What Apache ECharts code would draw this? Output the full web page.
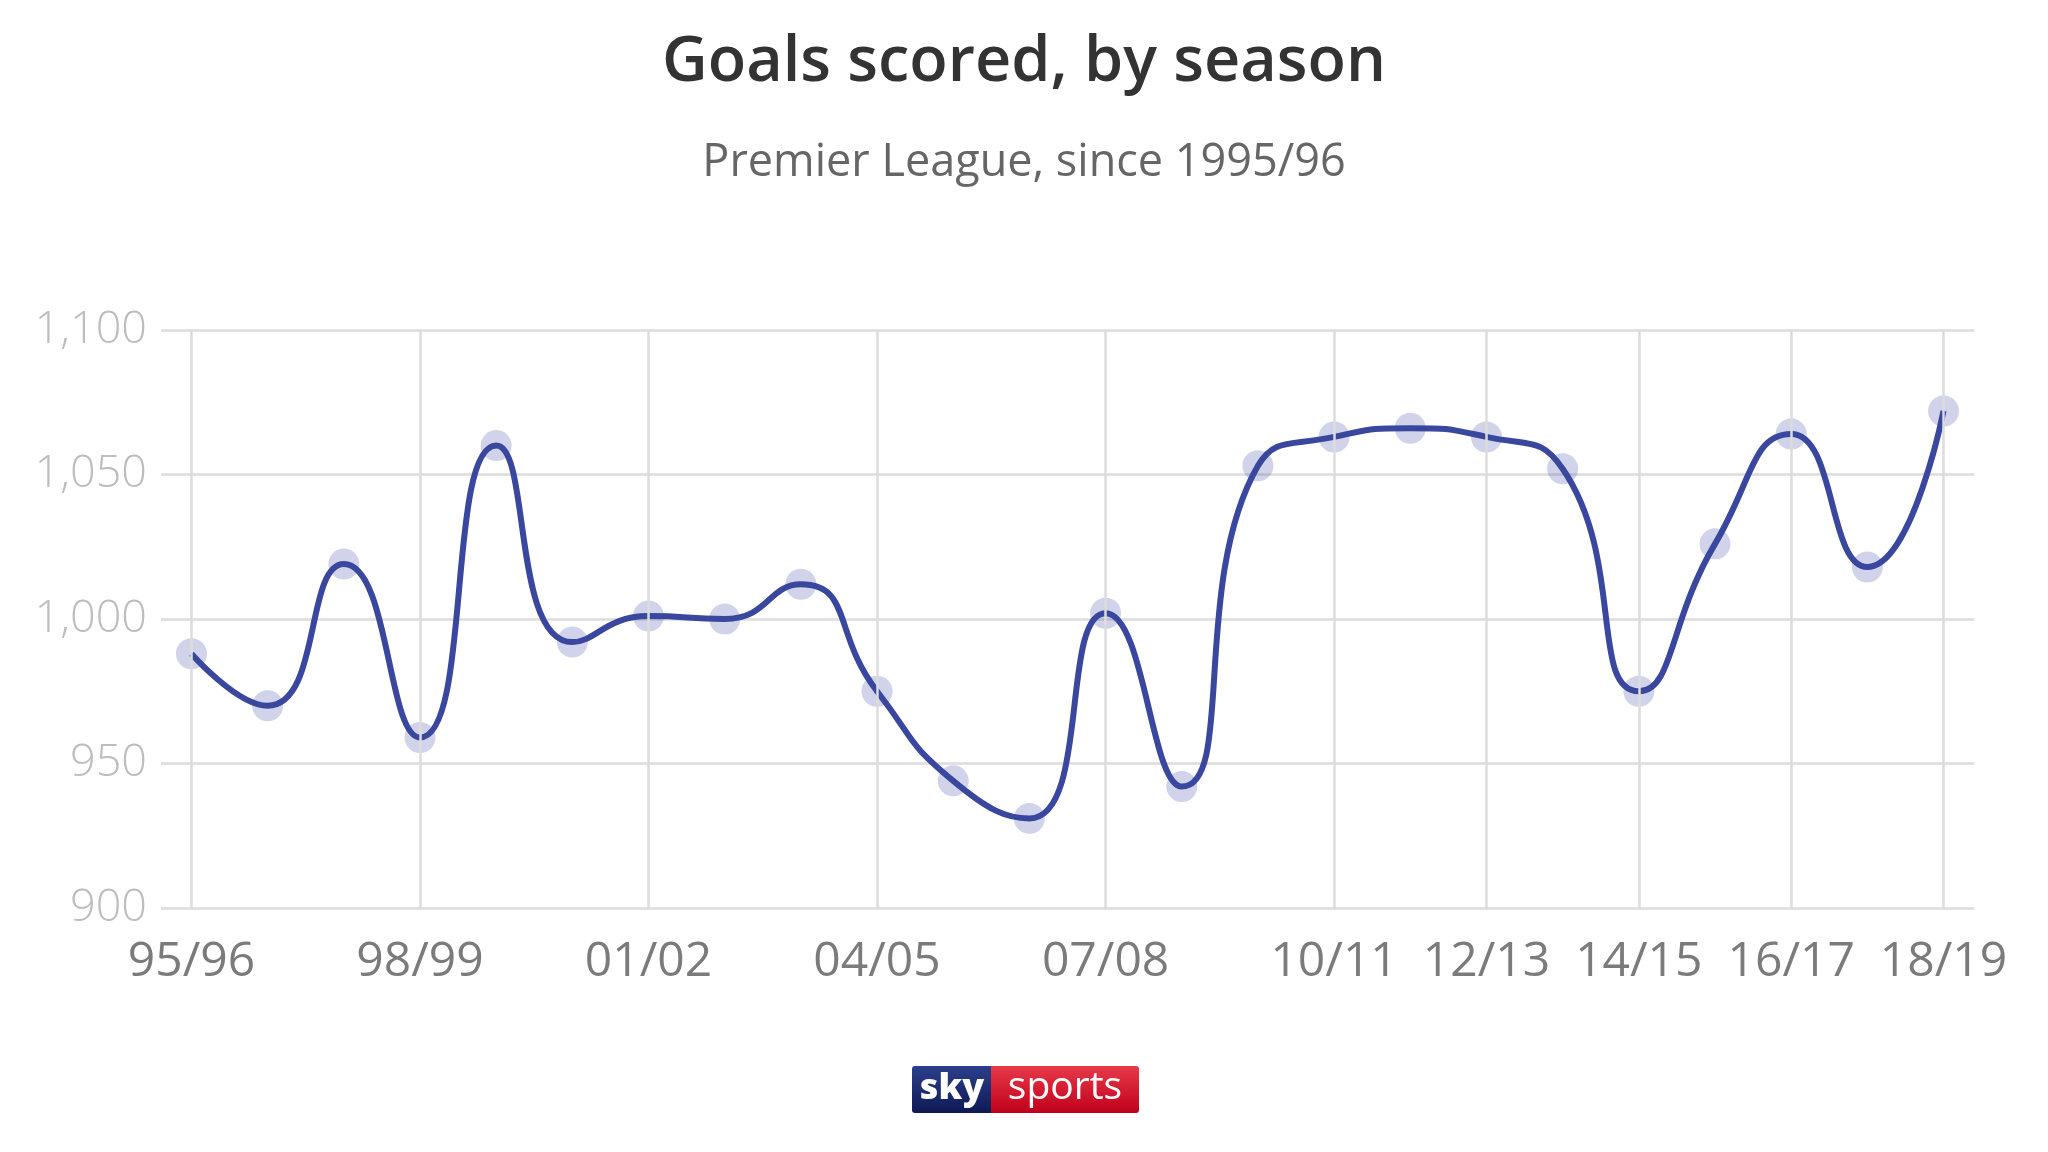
<!DOCTYPE html>
<html>
<head>
<meta charset="utf-8">
<script src="https://cdn.jsdelivr.net/npm/echarts@6/dist/echarts.min.js"></script>
<style>
html,body{margin:0;padding:0;background:#fff;}
#chart{width:2048px;height:1152px;}
</style>
</head>
<body>
<div id="chart"></div>
<script>
const seasons = ['95/96','96/97','97/98','98/99','99/00','00/01','01/02','02/03','03/04','04/05','05/06','06/07','07/08','08/09','09/10','10/11','11/12','12/13','13/14','14/15','15/16','16/17','17/18','18/19'];
const goals = [988,970,1019,959,1060,992,1001,1000,1012,975,944,931,1002,942,1053,1063,1066,1063,1052,975,1026,1064,1018,1072];
const labelledSeasons = ['95/96','98/99','01/02','04/05','07/08','10/11','12/13','14/15','16/17','18/19'];
const yTicks = [900,950,1000,1050,1100];

const labelIdx = labelledSeasons.map(s => seasons.indexOf(s));
const points = goals.map((v, i) => [i, v]);

const chart = echarts.init(document.getElementById('chart'), null, {renderer: 'canvas'});
const gridColor = '#dcdcdc';
const option = {
  backgroundColor: '#ffffff',
  animation: false,
  title: [
    {
      text: 'Goals scored, by season',
      left: 'center', top: 22,
      textStyle: {fontFamily: 'Open Sans', fontWeight: 600, fontSize: 63, color: '#333333', lineHeight: 72}
    },
    {
      text: 'Premier League, since 1995/96',
      left: 'center', top: 133,
      textStyle: {fontFamily: 'Open Sans', fontWeight: 400, fontSize: 45, color: '#666666', lineHeight: 50}
    }
  ],
  grid: {left: 161, right: 74, top: 330, bottom: 244, containLabel: false},
  xAxis: {
    type: 'value',
    min: -0.4, max: seasons.length - 1 + 0.4,
    axisLine: {show: false},
    axisTick: {show: false},
    splitLine: {show: false},
    axisLabel: {
      customValues: labelIdx,
      formatter: v => seasons[Math.round(v)] || '',
      margin: 30,
      fontFamily: 'Open Sans', fontWeight: 400, fontSize: 48, color: '#7b7b7b'
    }
  },
  yAxis: {
    type: 'value',
    min: yTicks[0], max: yTicks[yTicks.length - 1], interval: 50,
    axisLine: {show: false},
    axisTick: {show: false},
    splitLine: {show: true, lineStyle: {color: gridColor, width: 2.5}},
    axisLabel: {
      margin: 14,
      formatter: v => v.toLocaleString('en-US'),
      fontFamily: 'Open Sans', fontWeight: 300, fontSize: 45, color: '#bdbdbd'
    }
  },
  series: [
    {
      type: 'scatter',
      data: points,
      symbol: 'circle',
      symbolSize: 31,
      itemStyle: {color: 'rgba(60,75,165,0.3)'},
      z: 1,
      silent: true,
      markLine: {
        silent: true,
        symbol: 'none',
        label: {show: false},
        lineStyle: {color: gridColor, width: 2.5, type: 'solid'},
        data: labelIdx.map(i => ({xAxis: i}))
      }
    },
    {
      type: 'line',
      data: points,
      showSymbol: false,
      smooth: 0.55,
      lineStyle: {color: '#3a479f', width: 6},
      z: 3,
      silent: true
    }
  ],
  graphic: [
    {
      type: 'group', left: 912, top: 1066,
      children: [
        {type: 'rect', shape: {x: 0, y: 0, width: 79, height: 47, r: [3,0,0,3]},
         style: {fill: new echarts.graphic.LinearGradient(0,0,0,1,[{offset:0,color:'#2c3f8c'},{offset:1,color:'#0e1a55'}])}},
        {type: 'rect', shape: {x: 79, y: 0, width: 148, height: 47, r: [0,3,3,0]},
         style: {fill: new echarts.graphic.LinearGradient(0,0,0,1,[{offset:0,color:'#e8394a'},{offset:1,color:'#c0001a'}])}},
        {type: 'text', x: 40, y: 23, style: {text: 'sky', fill: '#ffffff', fontFamily: 'Open Sans', fontWeight: 800, fontSize: 36, align: 'center', verticalAlign: 'middle'}},
        {type: 'text', x: 153, y: 22, style: {text: 'sports', fill: '#ffffff', fontFamily: 'Open Sans', fontWeight: 400, fontSize: 39, align: 'center', verticalAlign: 'middle'}}
      ]
    }
  ]
};
chart.setOption(option);
</script>
</body>
</html>
